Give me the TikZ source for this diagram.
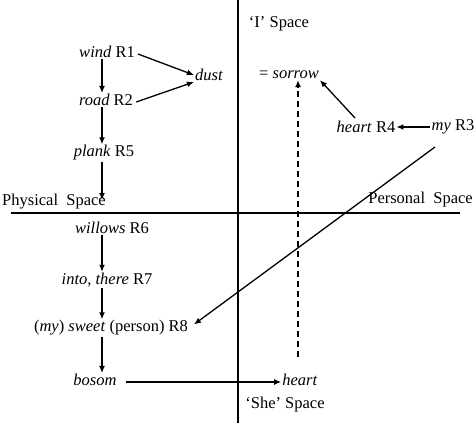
\documentclass[tikz,border=0pt]{standalone}
\usepackage{fontspec}
\setmainfont{Liberation Serif}
\usetikzlibrary{arrows.meta}

\begin{document}
\begin{tikzpicture}[x=1pt,y=-1pt,
  txt/.style={inner sep=1pt,font=\fontsize{16.5}{18}\selectfont},
  arr/.style={line width=1.3pt,-{Latex[length=7pt,width=6pt]}},
  axis/.style={line width=1.3pt},
  dashline/.style={line width=1.3pt,dash pattern=on 6pt off 4pt,
    -{Latex[length=7pt,width=6pt]}}
]
  \useasboundingbox (0,0) rectangle (474,423);
  % the two axes
  \coordinate (vtop) at (238,0);
  \coordinate (vbot) at (238,423);
  \coordinate (hl) at (11,213);
  \coordinate (hr) at (460,213);
  \draw[axis] (vtop) -- (vbot);
  \draw[axis] (hl) -- (hr);
  \node[txt,anchor=west] (phys) at (1,202) {Physical\ \ Space};
  \node[txt,anchor=east] (pers) at (474,200) {Personal\ \ Space};
  \node[txt] (ispace) at (279,24) {`I' Space};
  \node[txt] (shespace) at (285,405) {`She' Space};

  % physical column
  \coordinate (col) at (102,0);
  \node[txt] (wind) at (107,52) {\textit{wind} R1};
  \node[txt] (road) at (106,100) {\textit{road} R2};
  \node[txt] (plank) at (104,153) {\textit{plank} R5};
  \node[txt] (dust) at (209,75) {\textit{dust}};
  \node[txt] (willows) at (112,228) {\textit{willows} R6};
  \node[txt] (into) at (107,280) {\textit{into, there} R7};
  \node[txt] (sweet) at (111,328) {(\textit{my}) \textit{sweet} (person) R8};
  \node[txt] (bosom) at (95,380) {\textit{bosom}};
  \coordinate (hit) at (102,200);

  % personal column
  \node[txt] (sorrow) at (289,75) {= \textit{sorrow}};
  \node[txt] (heart) at (366,127) {\textit{heart} R4};
  \node[txt] (my) at (453,127) {\textit{my} R3};
  \node[txt] (sheheart) at (300,380) {\textit{heart}};
  \coordinate (dbot) at (298,357);
  \coordinate (diag) at (435,147);

  \draw[arr] (wind.south -| col) -- (road.north -| col);
  \draw[arr] (road.south -| col) -- (plank.north -| col);
  \draw[arr] (plank.south -| col) -- (hit);
  \draw[arr] (wind.east) ++(2,2) -- (dust.west);
  \draw[arr] (road.east) ++(2,2) -- (dust.south west);
  \draw[arr] (willows.south -| col) -- (into.north -| col);
  \draw[arr] (into.south -| col) -- (sweet.north -| col);
  \draw[arr] (sweet.south -| col) -- (bosom.north -| col);
  \draw[arr] (bosom.east) ++(8,2) coordinate (bstart) -- (sheheart.west |- bstart);
  \draw[arr] (my.west) -- (heart.east);
  \draw[arr] (heart.north) ++(-11,-2) -- (sorrow.east |- sorrow.south);
  \draw[arr,shorten >=6pt] (diag) -- (sweet.east);
  \draw[dashline] (dbot) -- (dbot |- sorrow.south);
\end{tikzpicture}
\end{document}
